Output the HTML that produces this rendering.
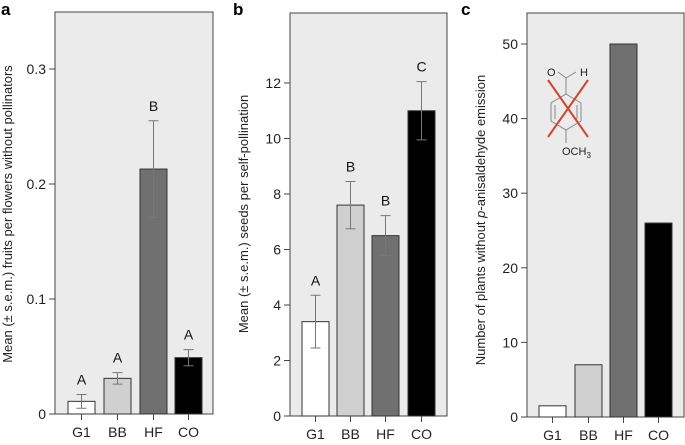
<!DOCTYPE html>
<html><head><meta charset="utf-8"><style>
body{margin:0;background:#fff;}
svg{display:block;font-family:"Liberation Sans",Arial,sans-serif;}
</style></head><body>
<svg id="c" width="685" height="445"></svg>
<script>
const categories=["G1","BB","HF","CO"];
const fills=["#ffffff","#d0d0d0","#707070","#000000"];
const aValues=[0.011,0.031,0.213,0.049];
const aErrors=[0.006,0.005,0.042,0.007];
const aLetters=["A","A","B","A"];
const aTicks=[0,0.1,0.2,0.3];
const aTickLabels=["0","0.1","0.2","0.3"];
const bValues=[3.4,7.6,6.5,11.0];
const bErrors=[0.95,0.85,0.72,1.05];
const bLetters=["A","B","B","C"];
const bTicks=[0,2,4,6,8,10,12];
const bTickLabels=["0","2","4","6","8","10","12"];
const cValues=[1.5,7,50,26];
const cTicks=[0,10,20,30,40,50];
const cTickLabels=["0","10","20","30","40","50"];

const NS="http://www.w3.org/2000/svg";
const svg=document.getElementById('c');
function mk(tag,attrs,parent,text){const e=document.createElementNS(NS,tag);for(const k in attrs)e.setAttribute(k,attrs[k]);if(text!==undefined)e.textContent=text;(parent||svg).appendChild(e);return e;}

const panels=[
 {id:'a',left:55,right:213,top:12,bottom:414,max:0.3,pxMax:69,vals:aValues,errs:aErrors,letters:aLetters,ticks:aTicks,tl:aTickLabels,barX:[68,104,140,175],lx:1},
 {id:'b',left:290,right:447,top:13,bottom:416,max:12,pxMax:83,vals:bValues,errs:bErrors,letters:bLetters,ticks:bTicks,tl:bTickLabels,barX:[302,337,372,408],lx:233},
 {id:'c',left:527,right:684,top:13,bottom:417,max:50,pxMax:44,vals:cValues,errs:null,letters:null,ticks:cTicks,tl:cTickLabels,barX:[539,575,610,645],lx:461}
];
panels.forEach(p=>{
 const g=mk('g',{},svg);
 
 
 const y=v=>p.bottom-(v/p.max)*(p.bottom-p.pxMax);
 const bg=mk('rect',{x:p.left,y:p.top,width:p.right-p.left,height:p.bottom-p.top,fill:'#ecebec',stroke:'#444','stroke-width':1},g);
 
 
 const lab=mk('text',{x:p.lx,y:15,'font-size':17,'font-weight':'bold'},g,p.id);
 
 
 p.ticks.forEach((t,i)=>{
  const ty=y(t);
  const tk=mk('line',{x1:p.left-6,x2:p.left,y1:ty,y2:ty,stroke:'#444'},g);
  
  
  const tx=mk('text',{x:p.left-9,y:ty+5,'font-size':14,'text-anchor':'end',fill:'#222'},g,p.tl[i]);
  
  
 });
 categories.forEach((c,i)=>{
  const x0=p.barX[i],w=27,v=p.vals[i];
  const r=mk('rect',{x:x0,y:y(v),width:w,height:p.bottom-y(v),fill:fills[i],stroke:'#333','stroke-width':1},g);
  
  
  const cx=x0+w/2;
  const xt=mk('line',{x1:cx,x2:cx,y1:p.bottom,y2:p.bottom+6,stroke:'#444'},g);
  
  
  const xl=mk('text',{x:cx,y:p.bottom+23,'font-size':14,'text-anchor':'middle',fill:'#222'},g,c);
  
  
  if(p.errs){
   const e=p.errs[i],yt=y(v+e),yb=y(v-e);
   const eb=mk('path',{d:`M${cx},${yt}V${yb}M${cx-5},${yt}H${cx+5}M${cx-5},${yb}H${cx+5}`,stroke:'#777',fill:'none','stroke-width':1},g);
   
   
   const lt=mk('text',{x:cx,y:yt-10,'font-size':14,'text-anchor':'middle',fill:'#111'},g,p.letters[i]);
   
   
  }
 });
});
const t1=mk('text',{transform:'translate(12,214) rotate(-90)','font-size':13,'text-anchor':'middle',fill:'#222'},svg,"Mean (\u00b1 s.e.m.) fruits per flowers without pollinators");


const t2=mk('text',{transform:'translate(248,214) rotate(-90)','font-size':13,'text-anchor':'middle',fill:'#222'},svg,"Mean (\u00b1 s.e.m.) seeds per self-pollination");


const t3=mk('text',{transform:'translate(485,220) rotate(-90)','font-size':13,'text-anchor':'middle',fill:'#222'},svg);


mk('tspan',{},t3,"Number of plants without ");
mk('tspan',{'font-style':'italic'},t3,"p");
mk('tspan',{},t3,"-anisaldehyde emission");
const m=mk('g',{stroke:'#888',fill:'none','stroke-width':1},svg);


mk('polygon',{points:'566,94 581,103 581,121 566,130 551,121 551,103'},m);
mk('path',{d:'M555,105V119M577,105V119M566,94V78M566,78L558,72M566,78L576,72M566,130V143'},m);
const tm=mk('g',{'font-size':11,fill:'#222'},svg);


mk('text',{x:547,y:76},tm,"O");
mk('text',{x:580,y:76},tm,"H");
const och=mk('text',{x:562,y:155},tm,"OCH");
mk('tspan',{dy:3,'font-size':8},och,"3");
const cross=mk('path',{d:'M548,80L588,137M588,80L548,137',stroke:'#d0452a','stroke-width':2,fill:'none'},svg);


</script>
</body></html>
